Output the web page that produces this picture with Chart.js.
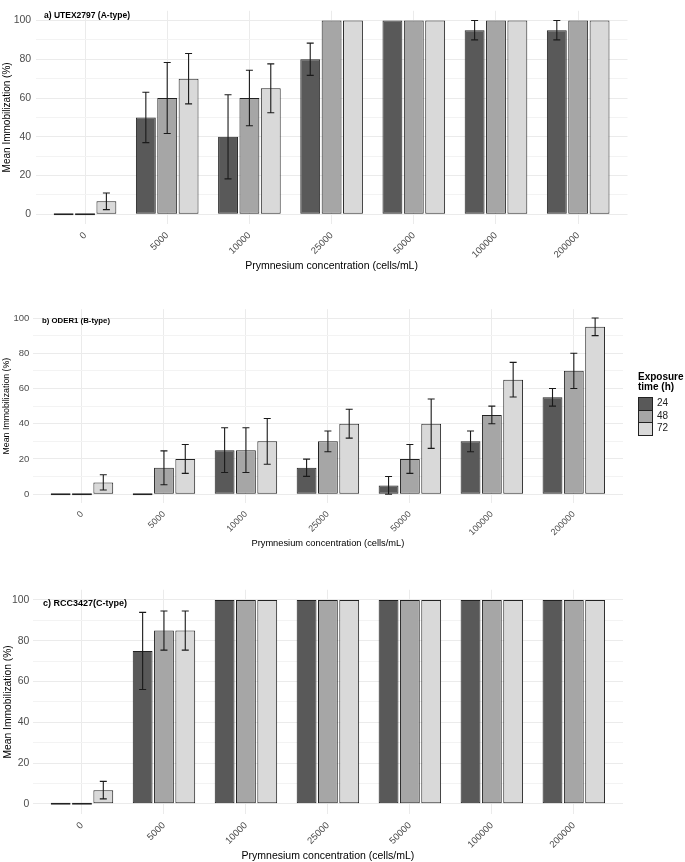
<!DOCTYPE html>
<html>
<head>
<meta charset="utf-8">
<script src="https://cdn.jsdelivr.net/npm/chart.js@4.4.1/dist/chart.umd.min.js"></script>
<style>
  body { margin: 0; background: #fff; width: 685px; height: 862px; position: relative; overflow: hidden;
         font-family: "Liberation Sans", Arial, sans-serif; }
  canvas { position: absolute; left: 0; }
  .ptitle { position: absolute; font-weight: bold; color: #000; white-space: nowrap; line-height: 1; }
  .legend { position: absolute; left: 638px; top: 372px; font-size: 10px; color: #222; }
  .legend .lt { font-weight: bold; line-height: 10px; color: #000; }
  .legend .row { position: relative; height: 12.7px; }
  .legend .box { position: absolute; left: 0; top: 0; width: 13px; height: 11.7px; border: 1px solid #222; }
  .legend .lab { position: absolute; left: 19px; top: 0; line-height: 12.7px; }
</style>
</head>
<body>
<canvas id="chartA" width="685" height="272" style="top:0px"></canvas>
<canvas id="chartB" width="685" height="249" style="top:300px"></canvas>
<canvas id="chartC" width="685" height="282" style="top:580px"></canvas>

<div class="ptitle" style="left:44px;top:10.5px;font-size:8.5px">a) UTEX2797 (A-type)</div>
<div class="ptitle" style="left:42px;top:317px;font-size:7.8px">b) ODER1 (B-type)</div>
<div class="ptitle" style="left:43px;top:598.5px;font-size:9px">c) RCC3427(C-type)</div>

<div class="legend" id="legend">
  <div class="lt">Exposure</div>
  <div class="lt" style="margin-bottom:5px">time (h)</div>
</div>

<script>
// x categories and series labels
var concentrations = ['0', '5000', '10000', '25000', '50000', '100000', '200000'];
var exposureTimes = ['24', '48', '72'];
var yTicks = [0, 10, 20, 30, 40, 50, 60, 70, 80, 90, 100];

// a) UTEX2797 (A-type)
var utex24 = [0, 50, 40, 80, 100, 95, 95];
var utex48 = [0, 60, 60, 100, 100, 100, 100];
var utex72 = [6.7, 70, 65, 100, 100, 100, 100];
var utex24Err = [0, 13, 21.7, 8.3, 0, 5, 5];
var utex48Err = [0, 18.3, 14.3, 0, 0, 0, 0];
var utex72Err = [4.3, 13, 12.6, 0, 0, 0, 0];

// b) ODER1 (B-type)
var oder24 = [0, 0, 25, 15, 5, 30, 55];
var oder48 = [0, 15, 25, 30, 20, 45, 70];
var oder72 = [6.7, 20, 30, 40, 40, 65, 95];
var oder24Err = [0, 0, 12.7, 4.9, 5, 5.9, 5];
var oder48Err = [0, 9.6, 12.7, 5.9, 8.2, 5, 10];
var oder72Err = [4.3, 8.2, 13, 8.2, 14, 9.8, 5];

// c) RCC3427 (C-type)
var rcc24 = [0, 75, 100, 100, 100, 100, 100];
var rcc48 = [0, 85, 100, 100, 100, 100, 100];
var rcc72 = [6.7, 85, 100, 100, 100, 100, 100];
var rcc24Err = [0, 18.9, 0, 0, 0, 0, 0];
var rcc48Err = [0, 9.6, 0, 0, 0, 0, 0];
var rcc72Err = [4.3, 9.6, 0, 0, 0, 0, 0];

var fills = ['#595959', '#a6a6a6', '#d9d9d9'];

// legend boxes
var leg = document.getElementById('legend');
exposureTimes.forEach(function (t, i) {
    var row = document.createElement('div');
    row.className = 'row';
    row.innerHTML = '<div class="box" style="background:' + fills[i] + '"></div><div class="lab">' + t + '</div>';
    leg.appendChild(row);
});

// draws mean +/- error whiskers on top of the bars
var errorBars = {
    id: 'errorBars',
    afterDatasetsDraw: function (chart) {
        var ctx = chart.ctx;
        var yScale = chart.scales.y;
        chart.data.datasets.forEach(function (ds, di) {
            var meta = chart.getDatasetMeta(di);
            meta.data.forEach(function (bar, i) {
                var e = ds.errors[i];
                if (!e) return;
                var v = ds.data[i].y;
                var top = yScale.getPixelForValue(v + e);
                var bot = yScale.getPixelForValue(v - e);
                ctx.save();
                ctx.strokeStyle = '#1a1a1a';
                ctx.lineWidth = 1.1;
                ctx.beginPath();
                ctx.moveTo(bar.x, top); ctx.lineTo(bar.x, bot);
                ctx.moveTo(bar.x - 3.5, top); ctx.lineTo(bar.x + 3.5, top);
                ctx.moveTo(bar.x - 3.5, bot); ctx.lineTo(bar.x + 3.5, bot);
                ctx.stroke();
                ctx.restore();
            });
        });
    }
};

function makePanel(id, series, errs, cfg) {
    var datasets = series.map(function (vals, s) {
        return {
            label: exposureTimes[s],
            data: vals.map(function (v, i) { return { x: i, y: v }; }),
            errors: errs[s],
            backgroundColor: fills[s],
            borderColor: '#222',
            borderWidth: 1,
            borderSkipped: false,
            minBarLength: 2,
            categoryPercentage: 0.78,
            barPercentage: 0.93
        };
    });

    new Chart(document.getElementById(id).getContext('2d'), {
        type: 'bar',
        data: { datasets: datasets },
        options: {
            responsive: false,
            animation: false,
            layout: { padding: { top: cfg.padTop, right: cfg.padRight, left: 0, bottom: 0 } },
            plugins: { legend: { display: false }, tooltip: { enabled: false } },
            scales: {
                x: {
                    type: 'linear',
                    min: -0.6,
                    max: 6.6,
                    offset: false,
                    afterBuildTicks: function (scale) {
                        scale.ticks = concentrations.map(function (c, i) { return { value: i }; });
                    },
                    afterFit: function (scale) { scale.height = cfg.xAxisH; },
                    border: { display: false },
                    grid: { color: '#ebebeb', drawTicks: false, offset: false },
                    ticks: {
                        minRotation: 45,
                        maxRotation: 45,
                        padding: 6,
                        color: '#4d4d4d',
                        font: { family: 'Liberation Sans', size: cfg.xTick },
                        callback: function (v) { return concentrations[v]; }
                    },
                    title: {
                        display: true,
                        text: 'Prymnesium concentration (cells/mL)',
                        color: '#000',
                        padding: { top: 0, bottom: 0 },
                        font: { family: 'Liberation Sans', size: cfg.xTitle }
                    }
                },
                y: {
                    min: -5,
                    max: 105,
                    afterBuildTicks: function (scale) {
                        scale.ticks = yTicks.map(function (v) { return { value: v }; });
                    },
                    afterFit: function (scale) { scale.width = cfg.left; },
                    border: { display: false },
                    grid: {
                        drawTicks: false,
                        color: function (c) { return c.tick && c.tick.value % 20 === 0 ? '#ebebeb' : '#f3f3f3'; }
                    },
                    ticks: {
                        padding: cfg.yPad,
                        color: '#4d4d4d',
                        font: { family: 'Liberation Sans', size: cfg.yTick },
                        callback: function (v) { return v % 20 === 0 ? v : ''; }
                    },
                    title: {
                        display: true,
                        text: 'Mean Immobilization (%)',
                        color: '#000',
                        padding: { top: 1.5, bottom: 0 },
                        font: { family: 'Liberation Sans', size: cfg.yTitle }
                    }
                }
            }
        },
        plugins: [errorBars]
    });
}

makePanel('chartA', [utex24, utex48, utex72], [utex24Err, utex48Err, utex72Err],
    { padTop: 0.5, padRight: 57.5, left: 35.7, xAxisH: 48, xTick: 9.5, xTitle: 10.5, yTick: 10.5, yTitle: 10, yPad: 4.5 });
makePanel('chartB', [oder24, oder48, oder72], [oder24Err, oder48Err, oder72Err],
    { padTop: 8.1, padRight: 62, left: 32.8, xAxisH: 46, xTick: 9, xTitle: 9.3, yTick: 9.5, yTitle: 8.8, yPad: 3.5 });
makePanel('chartC', [rcc24, rcc48, rcc72], [rcc24Err, rcc48Err, rcc72Err],
    { padTop: 7.4, padRight: 62, left: 32.8, xAxisH: 48, xTick: 9.5, xTitle: 10.5, yTick: 10.4, yTitle: 10.3, yPad: 3.5 });
</script>
</body>
</html>
